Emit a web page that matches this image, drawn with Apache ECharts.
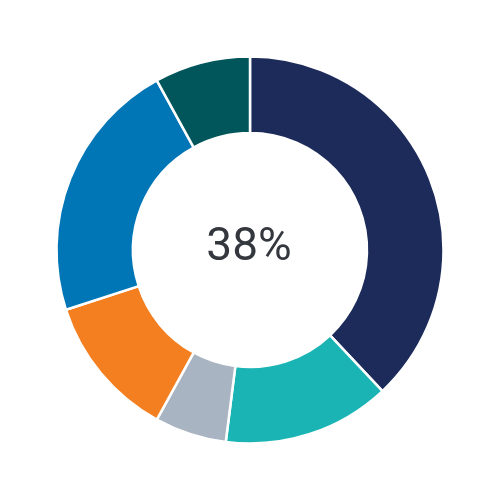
<!DOCTYPE html>
<html><head><meta charset="utf-8">
<script src="https://cdn.jsdelivr.net/npm/echarts@6/dist/echarts.min.js"></script>
<style>html,body{margin:0;padding:0;background:#fff}#c{width:500px;height:500px}</style>
</head><body><div id="c"></div>
<script>
const categories = ['A','B','C','D','E','F'];
const values = [38, 14, 6, 12, 22, 8];
const colors = ['#1c2b5a', '#1bb4b4', '#a9b4c2', '#f47f20', '#0076b6', '#00565a'];
const centerLabel = '38%';

const chart = echarts.init(document.getElementById('c'), null, {renderer:'canvas'});
chart.setOption({
  animation: false,
  graphic: [{
    type: 'text',
    style: { text: centerLabel, font: '46px Roboto, "Liberation Sans", Arial, sans-serif', fill: '#34383e', x: 249, y: 248.5, textAlign: 'center', textVerticalAlign: 'middle' }
  }],
  series: [{
    type: 'pie',
    center: ['50%', '50%'],
    radius: ['46.8%', '77.4%'],
    startAngle: 90,
    clockwise: true,
    label: { show: false },
    labelLine: { show: false },
    emphasis: { disabled: true },
    itemStyle: { borderColor: '#fff', borderWidth: 2.5 },
    data: categories.map((c, i) => ({ name: c, value: values[i], itemStyle: { color: colors[i] } }))
  }]
});
</script></body></html>
